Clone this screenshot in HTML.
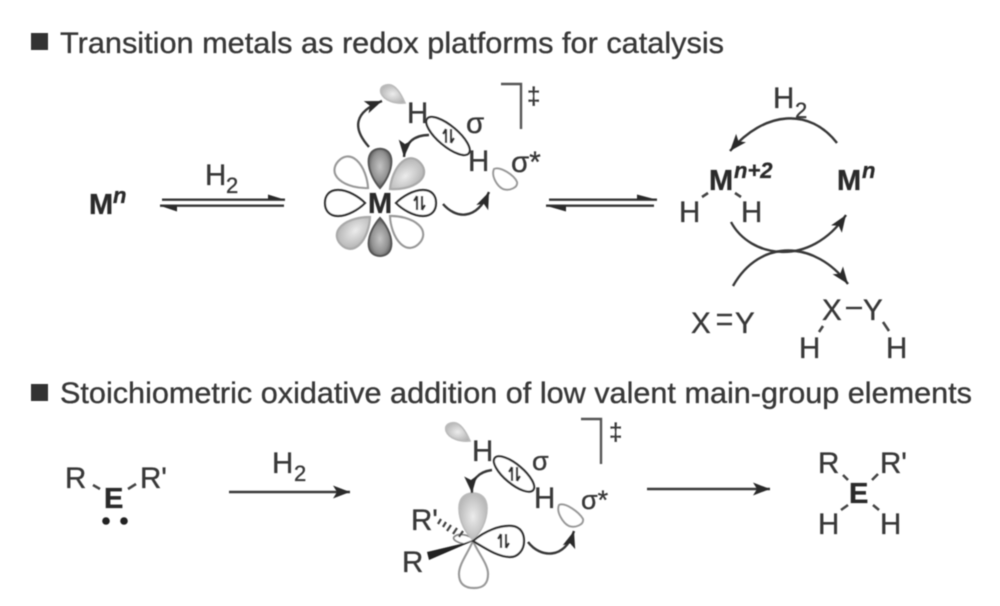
<!DOCTYPE html>
<html><head><meta charset="utf-8">
<style>
html,body{margin:0;padding:0;background:#fff}
svg{display:block}
text{font-family:"Liberation Sans",sans-serif;fill:#383838;font-size:29.5px;stroke:#383838;stroke-width:.35px}
.b{font-weight:bold;fill:#2c2c2c;stroke:#2c2c2c;font-size:29px}
.i{font-style:italic;font-weight:bold;fill:#2c2c2c;stroke:#2c2c2c;font-size:22px}
.l{stroke:#383838;stroke-width:2.4;fill:none}
.e{stroke:#333;stroke-width:2.2;fill:none}
.bd{stroke:#444;stroke-width:2.6;fill:none}
.br{stroke:#555;stroke-width:2.4;fill:none}
.s{font-size:22px}
</style></head><body>
<svg width="1000" height="606" viewBox="0 0 1000 606" xmlns="http://www.w3.org/2000/svg">
<defs>
<marker id="a" markerUnits="userSpaceOnUse" markerWidth="20" markerHeight="14" refX="17" refY="7" orient="auto"><path d="M0,0.5 L17,7 L0,13.5 L4,7Z" fill="#2c2c2c"/></marker>
<radialGradient id="dk" cx="50%" cy="45%" r="60%"><stop offset="0" stop-color="#c4c4c4"/><stop offset=".6" stop-color="#929292"/><stop offset="1" stop-color="#4a4a4a"/></radialGradient>
<radialGradient id="gr" cx="50%" cy="50%" r="60%"><stop offset="0" stop-color="#ececec"/><stop offset="1" stop-color="#b0b0b0"/></radialGradient>
<filter id="bl" x="-5%" y="-5%" width="110%" height="110%"><feGaussianBlur stdDeviation="0.55"/></filter>
</defs>
<g filter="url(#bl)">
<rect x="31" y="33" width="17" height="17" fill="#333"/>
<rect x="31" y="384" width="17" height="17" fill="#333"/>
<text x="60" y="53" textLength="664" lengthAdjust="spacingAndGlyphs">Transition metals as redox platforms for catalysis</text>
<text x="60" y="403" textLength="912" lengthAdjust="spacingAndGlyphs">Stoichiometric oxidative addition of low valent main-group elements</text>

<text x="89" y="214" class="b">M</text><text x="113" y="203" class="i">n</text>
<text x="205" y="185">H</text><text x="226" y="193" class="s">2</text>
<path d="M162,199.7 H285" class="l"/><path d="M268,194.5 L285,199.7 H268Z" fill="#2c2c2c"/>
<path d="M284,205.7 H160" class="l"/><path d="M160,205.7 L177,211.5 V205.7Z" fill="#2c2c2c"/>

<g stroke-width="2.2">
<path transform="translate(380,188) scale(.88,.98)" d="M0,0 C-6,-6 -13,-17 -13,-27 C-13,-36 -7,-40 0,-40 C7,-40 13,-36 13,-27 C13,-17 6,-6 0,0Z" fill="url(#dk)" stroke="#555"/>
<path transform="translate(380,218) rotate(180) scale(.88,.95)" d="M0,0 C-6,-6 -13,-17 -13,-27 C-13,-36 -7,-40 0,-40 C7,-40 13,-36 13,-27 C13,-17 6,-6 0,0Z" fill="url(#dk)" stroke="#555"/>
<path transform="translate(390,189) rotate(50)" d="M0,0 C-6,-6 -13,-17 -13,-27 C-13,-36 -7,-40 0,-40 C7,-40 13,-36 13,-27 C13,-17 6,-6 0,0Z" fill="url(#gr)" stroke="#aaa"/>
<path transform="translate(370,217) rotate(-133)" d="M0,0 C-6,-6 -13,-17 -13,-27 C-13,-36 -7,-40 0,-40 C7,-40 13,-36 13,-27 C13,-17 6,-6 0,0Z" fill="url(#gr)" stroke="#aaa"/>
<path transform="translate(368,188) rotate(-48)" d="M0,0 C-6,-6 -13,-17 -13,-27 C-13,-36 -7,-40 0,-40 C7,-40 13,-36 13,-27 C13,-17 6,-6 0,0Z" fill="#fff" stroke="#999"/>
<path transform="translate(390,216) rotate(133)" d="M0,0 C-6,-6 -13,-17 -13,-27 C-13,-36 -7,-40 0,-40 C7,-40 13,-36 13,-27 C13,-17 6,-6 0,0Z" fill="#fff" stroke="#999"/>
<path transform="translate(365,203) rotate(-90)" d="M0,0 C-6,-6 -13,-17 -13,-27 C-13,-36 -7,-40 0,-40 C7,-40 13,-36 13,-27 C13,-17 6,-6 0,0Z" fill="#fff" stroke="#333"/>
<path transform="translate(396,203) rotate(90)" d="M0,0 C-6,-6 -13,-17 -13,-27 C-13,-36 -7,-40 0,-40 C7,-40 13,-36 13,-27 C13,-17 6,-6 0,0Z" fill="#fff" stroke="#333"/>
</g>
<text x="368" y="213" class="b">M</text>
<path d="M417,196 V210 M417,196 L414,201 M422,210 V196 M422,210 L425,205" class="e"/>
<path d="M405,103 C396,104 384,101 381,93 C379,86 386,84 391,85 C397,87 402,96 405,103Z" fill="url(#gr)" stroke="#bbb" stroke-width="1.6"/>
<text x="407" y="123">H</text>
<text x="466" y="133">σ</text>
<ellipse cx="448" cy="136" rx="27" ry="10" transform="rotate(40 448 136)" fill="#fff" stroke="#333" stroke-width="2.2"/>
<path d="M446,129 V143 M446,129 L443,134 M451,143 V129 M451,143 L454,138" class="e"/>
<text x="468" y="171">H</text>
<path d="M494,169 C500,166 514,175 517,182 C518,188 509,191 503,189 C497,186 491,176 494,169Z" fill="#fff" stroke="#999" stroke-width="2"/>
<text x="511" y="172">σ*</text>
<path d="M501,84 H521 V129" class="br"/>
<text x="527" y="104" style="font-size:24px">‡</text>
<path d="M369,147 C352,128 354,112 382,101" class="l" marker-end="url(#a)"/>
<path d="M429,135 C414,135 405,143 404,157" class="l" marker-end="url(#a)"/>
<path d="M443,204 C455,218 476,222 489,192" class="l" marker-end="url(#a)"/>

<path d="M549,199.7 H657" class="l"/><path d="M637,194.5 L657,199.7 H637Z" fill="#2c2c2c"/>
<path d="M654,205.7 H546" class="l"/><path d="M546,205.7 L566,211.5 V205.7Z" fill="#2c2c2c"/>

<text x="773" y="108">H</text><text x="795" y="118" class="s">2</text>
<path d="M837,143 C810,108 765,110 730,151" class="l" marker-end="url(#a)"/>
<text x="709" y="190" class="b">M</text><text x="734" y="178" class="i">n+2</text>
<text x="837" y="190" class="b">M</text><text x="862" y="178" class="i">n</text>
<text x="679" y="222">H</text><text x="741" y="222">H</text>
<path d="M702,197 L708,193 M735,193 L741,197" class="bd"/>
<path d="M731,222 C750,258 810,268 846,215" class="l" marker-end="url(#a)"/>
<path d="M733,286 C760,238 815,240 848,284" class="l" marker-end="url(#a)"/>
<text x="691" y="333">X</text><path d="M717,315 H732 M717,324 H732" class="l"/><text x="735" y="333">Y</text>
<text x="822" y="320">X</text><path d="M846,308 H862" class="l"/><text x="863" y="320">Y</text>
<text x="799" y="358">H</text><text x="886" y="358">H</text>
<path d="M823,326 L819,332 M883,322 L889,331" class="bd"/>

<text x="65" y="488">R</text><text x="140" y="488">R'</text>
<text x="104" y="508" class="b">E</text>
<path d="M93,485 L100,489 M128,489 L136,484" class="bd"/>
<circle cx="106" cy="521" r="3.8" fill="#222"/><circle cx="124" cy="521" r="3.8" fill="#222"/>
<text x="272" y="473">H</text><text x="294" y="481" class="s">2</text>
<path d="M229,492 H350" class="l" marker-end="url(#a)"/>

<path d="M454,537 C458,533 468,534 474,540 L464,544 C459,543 452,540 454,537Z" fill="#fff" stroke="#888" stroke-width="1.8"/>
<path d="M473,541 C468,553 459,564 459,574 C459,584 465,588 474,588 C483,588 488,584 488,574 C488,564 478,553 473,541Z" fill="#fff" stroke="#999" stroke-width="2.2"/>
<path d="M473,540 C466,533 459,522 459,508 C459,498 465,493 473,493 C481,493 487,498 487,508 C487,522 480,533 473,540Z" fill="url(#gr)" stroke="#bbb" stroke-width="1.6"/>
<path d="M473,541 C485,531 500,525 512,526 C521,527 524,534 524,541 C524,550 518,557 510,557 C498,557 485,548 473,541Z" fill="#fff" stroke="#333" stroke-width="2.2"/>
<path d="M473,541 L427,552 L429,560Z" fill="#222"/>
<path d="M463,531 L459,537 M457,528 L453,534 M451,525 L447,531 M446,522 L443,527 M441,519 L438,524" stroke="#444" stroke-width="2.2"/>
<text x="411" y="530">R'</text>
<text x="402" y="572">R</text>
<path d="M501,534 V548 M501,534 L498,539 M506,548 V534 M506,548 L509,543" class="e"/>
<path d="M470,441 C461,442 449,439 446,431 C444,424 451,422 456,423 C462,425 467,434 470,441Z" fill="url(#gr)" stroke="#bbb" stroke-width="1.6"/>
<text x="472" y="461">H</text>
<text x="532" y="470" style="font-size:27px">σ</text>
<ellipse cx="514" cy="474" rx="25" ry="9.5" transform="rotate(40 514 474)" fill="#fff" stroke="#333" stroke-width="2.2"/>
<path d="M512,467 V481 M512,467 L509,472 M517,481 V467 M517,481 L520,476" class="e"/>
<text x="534" y="508">H</text>
<path d="M559,505 C565,502 579,512 583,519 C584,525 575,528 569,526 C563,523 556,512 559,505Z" fill="#fff" stroke="#999" stroke-width="2"/>
<text x="581" y="509" style="font-size:27px">σ*</text>
<path d="M581,419 H601 V464" class="br"/>
<text x="609" y="440" style="font-size:24px">‡</text>
<path d="M492,470 C478,472 471,480 472,493" class="l" marker-end="url(#a)"/>
<path d="M528,542 C540,558 565,560 574,531" class="l" marker-end="url(#a)"/>
<path d="M647,489 H770" class="l" marker-end="url(#a)"/>

<text x="818" y="473">R</text><text x="880" y="473">R'</text>
<text x="849" y="503" class="b">E</text>
<text x="818" y="534">H</text><text x="880" y="534">H</text>
<path d="M843,475 L848,480 M878,474 L872,480 M848,505 L841,510 M873,505 L879,510" class="bd"/>
</g>
</svg>
</body></html>
